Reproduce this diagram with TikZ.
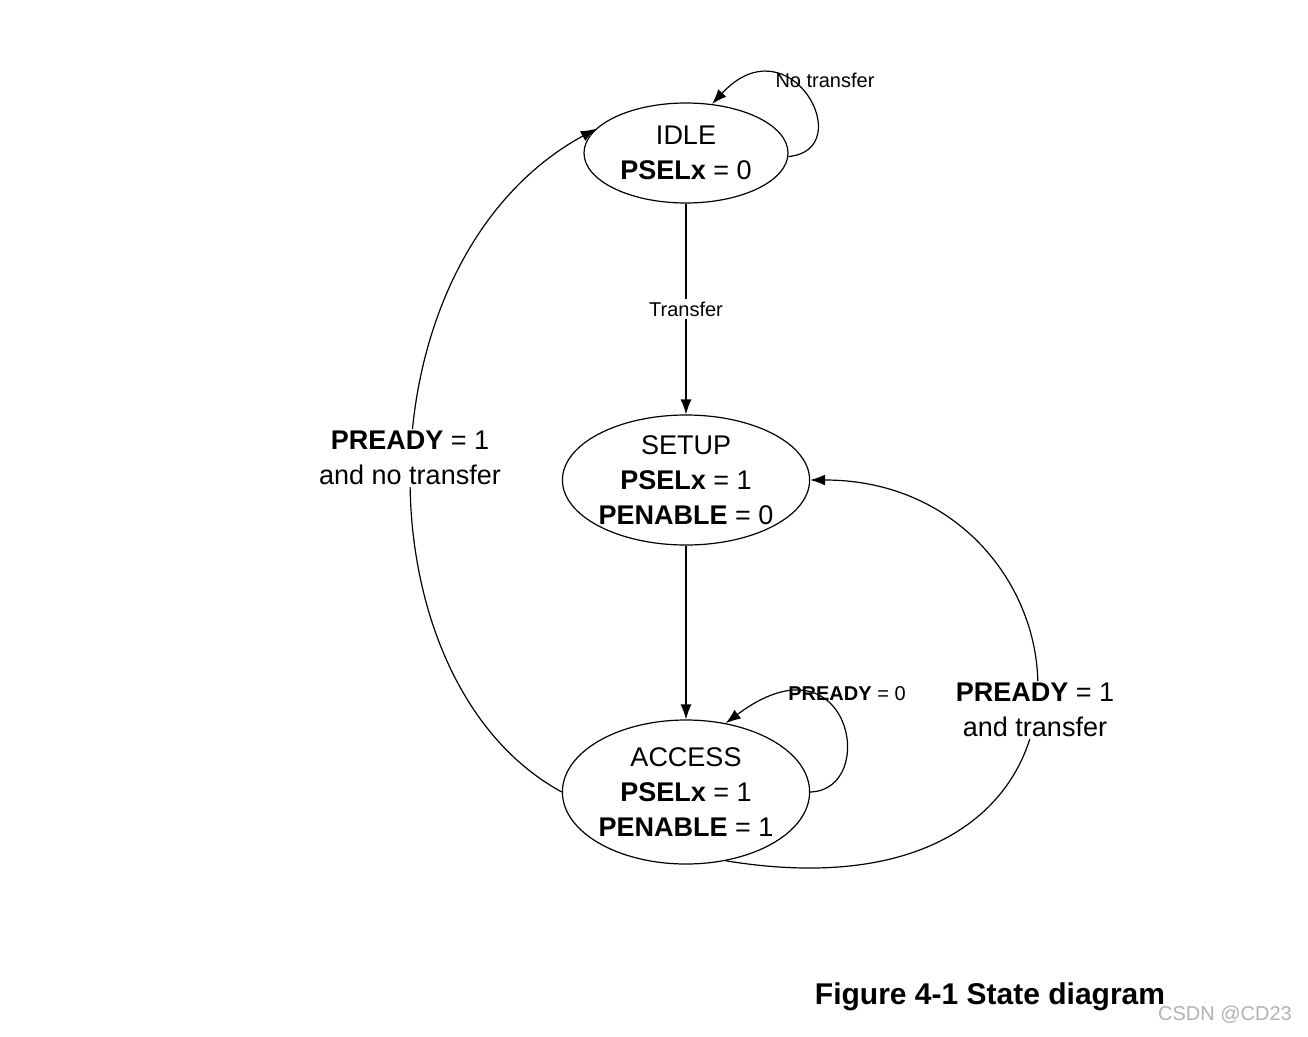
\documentclass[tikz,border=0pt]{standalone}
\usepackage{fontspec}
\setmainfont{Liberation Sans}
\usetikzlibrary{arrows.meta,shapes.geometric}
\begin{document}
\begin{tikzpicture}[x=1pt,y=-1pt,
 st/.style={draw,ellipse,line width=1.2pt,inner sep=0pt,align=center,font=\fontsize{27}{35}\selectfont},
 ar/.style={line width=1.2pt,-{Latex[length=15pt,width=11pt]}},
 big/.style={align=center,font=\fontsize{27}{35}\selectfont},
 sm/.style={font=\fontsize{20}{24}\selectfont}]
\useasboundingbox[fill=white] (0,0) rectangle (1308,1036);
\node[st,minimum width=204pt,minimum height=100pt] (idle) at (686,153) {IDLE\\\textbf{PSELx} = 0};
\node[st,minimum width=246pt,minimum height=130pt] (setup) at (686,480) {SETUP\\\textbf{PSELx} = 1\\\textbf{PENABLE} = 0};
\node[st,minimum width=244pt,minimum height=144pt] (access) at (686,792) {ACCESS\\\textbf{PSELx} = 1\\\textbf{PENABLE} = 1};
\draw[ar] (idle.south) -- node[fill=white,sm,inner sep=3pt]{Transfer} (setup.north);
\draw[ar] (setup.south) -- (access.north);
\draw[ar] (idle.-2) .. controls (860,150) and (790,20) .. (idle.62);
\node[sm] (nt) at (825,80) {No transfer};
\draw[ar] (access.0) .. controls (880,790) and (850,630) .. (access.60);
\node[sm] (p0) at (847,694) {\textbf{PREADY} = 0};
\draw[ar] (access.180) .. controls (356,680) and (356,260) .. (idle.165);
\node[big,fill=white,inner sep=2pt] (l1) at (410,458) {\textbf{PREADY} = 1\\and no transfer};
\draw[ar] (access.-60) .. controls (1150,930) and (1100,480) .. (setup.0);
\node[big,fill=white,inner sep=2pt] (l2) at (1035,710) {\textbf{PREADY} = 1\\and transfer};
\node[font=\fontsize{30}{36}\selectfont\bfseries] (t) at (990,997) {Figure 4-1 State diagram};
\node[font=\fontsize{20}{24}\selectfont,text=gray!60] (w) at (1225,1015) {CSDN @CD23};
\end{tikzpicture}
\end{document}
